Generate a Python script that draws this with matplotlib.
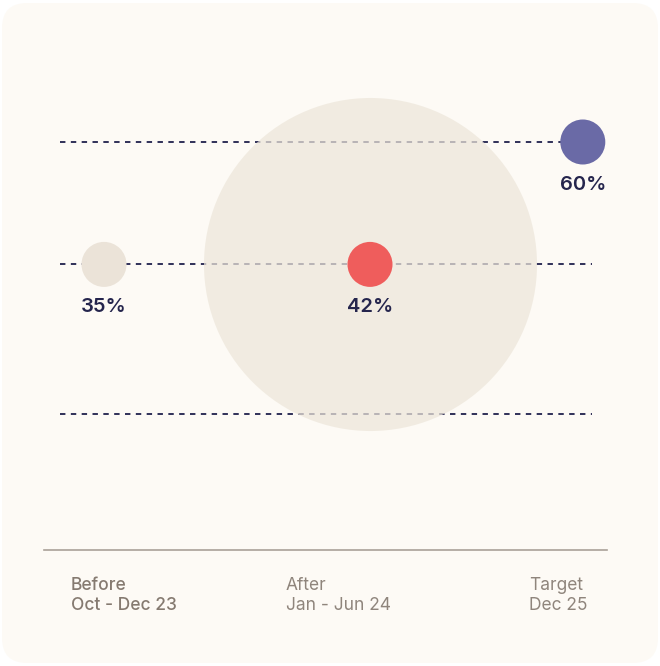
import matplotlib
matplotlib.use("Agg")
import matplotlib.pyplot as plt
from matplotlib.patches import FancyBboxPatch

# ---- data ----
periods = ["Before", "After", "Target"]
period_dates = ["Oct - Dec 23", "Jan - Jun 24", "Dec 25"]
dot_x = [0.0, 1.0, 1.8]          # horizontal position of each period's dot
dot_y = [42, 42, 60]             # vertical level of each dot
dot_labels = ["35%", "42%", "60%"]
dot_colors = ["#ebe3d8", "#ef5d5c", "#6a6aa6"]
grid_levels = [20, 42, 60]
label_x = [-0.124, 0.684, 1.598]  # left edges of period labels (data units)
halo_x, halo_y = [1.0], [42]

W, H, DPI = 660, 666, 100
fig = plt.figure(figsize=(W / DPI, H / DPI), dpi=DPI, facecolor="white")

card = FancyBboxPatch((2 / DPI, 3 / DPI), 656 / DPI, 660 / DPI,
                      boxstyle="round,pad=0,rounding_size=0.25",
                      transform=fig.dpi_scale_trans, facecolor="#fdfaf5",
                      edgecolor="none", zorder=-10)
fig.patches.append(card)

ax = fig.add_axes([44 / W, (H - 550) / H, 563 / W, 476 / H])
ax.set_facecolor("none")
ax.set_zorder(1)
ax.set_xlim(-0.2256, 1.891)
ax.set_ylim(0, 70)

for lv in grid_levels:
    ax.axhline(lv, xmin=0.028, xmax=0.973, color="#20204c", lw=1.3,
               linestyle=(0, (3.0, 3.0)), zorder=1)

ax.scatter(halo_x, halo_y, s=57500, color="#ede6da", alpha=0.72,
           linewidths=0, zorder=2, clip_on=False)
ax.scatter(dot_x, dot_y, s=1050, c=dot_colors, linewidths=0, zorder=3,
           clip_on=False)

for x, y, t in zip(dot_x, dot_y, dot_labels):
    ax.annotate(t, (x, y), xytext=(0, -31), textcoords="offset points",
                ha="center", va="center", fontsize=14.5, color="#25254d",
                fontfamily="Inter", fontweight="semibold", zorder=4)

for i, (x, p, d) in enumerate(zip(label_x, periods, period_dates)):
    w = "medium" if i == 0 else "normal"
    c = "#857a70" if i == 0 else "#8f857c"
    ax.annotate(p, (x, 0), xycoords=("data", "axes fraction"),
                xytext=(0, -28.8), textcoords="offset points",
                ha="left", va="baseline", fontsize=12.5, color=c,
                fontfamily="Inter", fontweight=w, annotation_clip=False)
    ax.annotate(d, (x, 0), xycoords=("data", "axes fraction"),
                xytext=(0, -43.2), textcoords="offset points",
                ha="left", va="baseline", fontsize=12.5, color=c,
                fontfamily="Inter", fontweight=w, annotation_clip=False)

for s in ["top", "right", "left"]:
    ax.spines[s].set_visible(False)
ax.spines["bottom"].set_color("#aaa198")
ax.spines["bottom"].set_linewidth(1.2)
ax.set_xticks([])
ax.set_yticks([])

fig.savefig("out.png", dpi=DPI, facecolor="white")
